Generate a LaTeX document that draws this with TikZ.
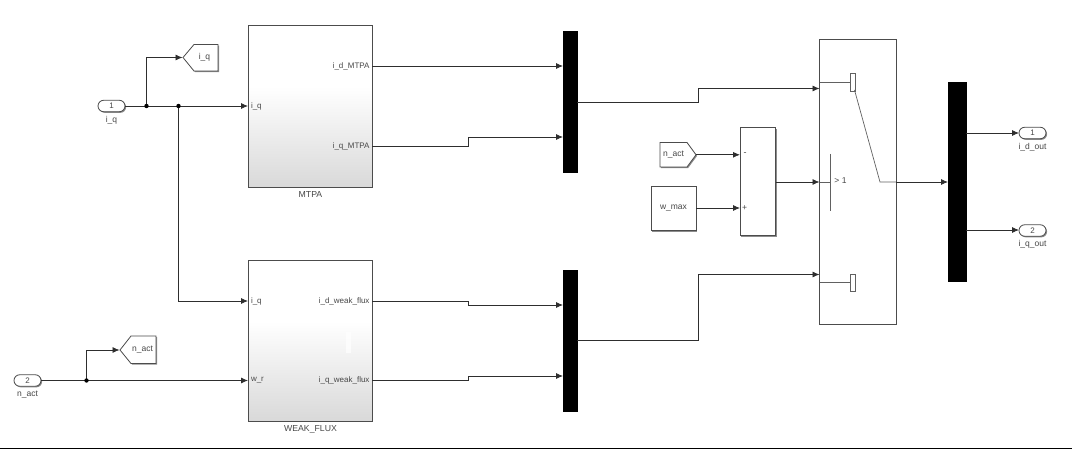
\documentclass[tikz,border=0pt]{standalone}
\usepackage{fontspec}
\setmainfont{Liberation Sans}
\usetikzlibrary{arrows.meta,shapes.misc,shadows}
\pgfdeclareverticalshading{blockfade}{100bp}{color(0bp)=(black!15); color(25bp)=(black!15); color(56bp)=(white); color(100bp)=(white)}
\tikzset{
  lbl/.style={inner sep=0pt,outer sep=0pt,text=black!72,font=\fontsize{8}{9}\selectfont},
  capt/.style={lbl,font=\fontsize{8.7}{10}\selectfont},
  small/.style={lbl,font=\fontsize{8.5}{10}\selectfont},
  shade3/.style={drop shadow={shadow xshift=1.1pt,shadow yshift=-1.1pt,fill=black,opacity=.45}},
  blk/.style={draw=black!70,line width=.8pt,fill=white,inner sep=0pt,outer sep=0pt,anchor=north west,shade3},
  subsys/.style={blk,shading=blockfade},
  muxbar/.style={blk,fill=black,draw=black},
  port/.style={rounded rectangle,draw=black!70,line width=.8pt,fill=white,minimum width=27pt,minimum height=11.5pt,inner sep=0pt,outer sep=0pt,shade3,lbl},
  tagshape/.style={draw=black!70,line width=.8pt,fill=white,shade3},
  wire/.style={draw=black!82,line width=.75pt},
  sig/.style={wire,-{Latex[length=7pt,width=6pt]}},
  dot/.style={circle,fill=black,inner sep=0pt,minimum size=4.4pt},
  inner/.style={draw=black!62,line width=.7pt},
  swbox/.style={draw=black!62,line width=.7pt,fill=white,inner sep=0pt,anchor=north west,minimum width=5pt},
  ghost/.style={fill=white,draw=none,opacity=.7},
}
\begin{document}
\begin{tikzpicture}[x=1pt,y=-1pt]
\useasboundingbox (0,0) rectangle (1072,449);
% bottom rule
\coordinate (ruleL) at (0,448.2);
\coordinate (ruleR) at (1072,448.2);
\draw[black,line width=1.4pt] (ruleL) -- (ruleR);

% subsystems
\node[subsys,minimum width=124pt,minimum height=162pt] (mtpa) at (248,25) {};
\node[capt] (mtpacap) at (310.5,195) {MTPA};
\node[subsys,minimum width=124pt,minimum height=161pt] (weak) at (248,260) {};
\fill[ghost] (346,332) rectangle (351,353);
\node[capt] (weakcap) at (310.5,429) {WEAK\_FLUX};
\node[lbl,anchor=west] (l1) at (251,106.5) {i\_q};
\node[lbl,anchor=east] (l2) at (369.5,66.5) {i\_d\_MTPA};
\node[lbl,anchor=east] (l3) at (369.5,146.5) {i\_q\_MTPA};
\node[lbl,anchor=west] (l4) at (251,301.5) {i\_q};
\node[lbl,anchor=west] (l5) at (251,380.5) {w\_r};
\node[lbl,anchor=east] (l6) at (369.5,301.5) {i\_d\_weak\_flux};
\node[lbl,anchor=east] (l7) at (369.5,380.5) {i\_q\_weak\_flux};
\coordinate (mtpaI) at (248,106);
\coordinate (mtpaD) at (372,66);
\coordinate (mtpaQ) at (372,146);
\coordinate (weakI) at (248,301);
\coordinate (weakD) at (372,301);
\coordinate (weakQ) at (372,380);

% inports
\node[port] (in1) at (111.5,106) {1};
\node[small] (in1l) at (111.5,120.5) {i\_q};
\node[port] (in2) at (27.5,380.5) {2};
\node[small] (in2l) at (27.5,395) {n\_act};

% goto tags
\draw[tagshape] (183,57.5) -- (194,44.5) -- (218,44.5) -- (218,71) -- (194,71) -- cycle;
\node[small] (gotoiq) at (204.5,57.5) {i\_q};
\coordinate (gotoiqT) at (182.5,57.5);
\draw[tagshape] (120,350) -- (131,336) -- (156,336) -- (156,363.5) -- (131,363.5) -- cycle;
\node[small] (gotona) at (142.5,350) {n\_act};
\coordinate (gotonaT) at (119.5,350);

% from tag and constant
\draw[tagshape] (660,142.5) -- (687,142.5) -- (696,154.8) -- (687,167) -- (660,167) -- cycle;
\node[small] (fromna) at (673.5,155) {n\_act};
\coordinate (fromnaT) at (696,154.8);
\node[blk,minimum width=45pt,minimum height=44.5pt] (wmax) at (651.3,186) {};
\node[small] (wmaxl) at (673.5,207.8) {w\_max};

% sum
\node[blk,minimum width=35.5pt,minimum height=108pt] (sum) at (740,127.8) {};
\node[lbl,font=\fontsize{9}{10}\selectfont] (minus) at (745,154.5) {-};
\node[lbl,font=\fontsize{8.5}{10}\selectfont] (plus) at (744.5,208) {+};
\coordinate (sumA) at (740,154.8);
\coordinate (sumB) at (740,208);
\coordinate (sumO) at (775.5,182);

% mux bars
\node[muxbar,minimum width=14pt,minimum height=140.5pt] (mux1) at (563,31.8) {};
\node[muxbar,minimum width=14pt,minimum height=140.5pt] (mux2) at (563,270.8) {};
\node[muxbar,minimum width=18pt,minimum height=199pt] (mux3) at (948,82) {};
\coordinate (m1a) at (563,66);
\coordinate (m1b) at (563,137);
\coordinate (m1o) at (577,102);
\coordinate (m2a) at (563,305);
\coordinate (m2b) at (563,376);
\coordinate (m2o) at (577,340);
\coordinate (m3i) at (948,182);
\coordinate (m3a) at (966,133);
\coordinate (m3b) at (966,230);

% switch
\node[blk,minimum width=76.5pt,minimum height=285pt] (switch) at (819.5,39) {};
\coordinate (swA) at (819.5,88.5);
\coordinate (swC) at (819.5,182);
\coordinate (swB) at (819.5,274.5);
\coordinate (swO) at (896,182);
\coordinate (upS) at (819.5,82.5);
\coordinate (loS) at (819.5,282);
\coordinate (thT) at (830.8,154);
\coordinate (thB) at (830.8,211);
\coordinate (thM) at (830.8,182);
\coordinate (armT) at (854.5,90);
\coordinate (armK) at (880,182);
\node[swbox,minimum height=18pt] (upC) at (850,73.3) {};
\node[swbox,minimum height=17pt] (loC) at (850,274) {};
\draw[inner] (upS) -- (upC.west |- upS);
\draw[inner] (loS) -- (loC.west |- loS);
\draw[inner] (swC) -- (thM);
\draw[inner] (thT) -- (thB);
\draw[inner] (armT) -- (armK) -- (swO);
\node[small] (thr) at (840.5,180.5) {> 1};

% outports
\node[port] (out1) at (1032.5,133) {1};
\node[small] (out1l) at (1032.5,147) {i\_d\_out};
\node[port] (out2) at (1032.5,230.5) {2};
\node[small] (out2l) at (1032.5,244.5) {i\_q\_out};

% connectors
\coordinate (j1) at (146.5,106);
\coordinate (j2) at (178.5,106);
\coordinate (j3) at (86.5,380.5);
\coordinate (weakW2) at (248,380.5);
\draw[sig] (in1.east) -- (mtpaI);
\draw[sig] (j1) |- (gotoiqT);
\draw[sig] (j2) |- (weakI);
\draw[sig] (in2.east) -- (weakW2);
\draw[sig] (j3) |- (gotonaT);
\node[dot] (d1) at (j1) {};
\node[dot] (d2) at (j2) {};
\node[dot] (d3) at (j3) {};

\draw[sig] (mtpaD) -- (m1a);
\draw[sig] (mtpaQ) -- (468,146) -- (468,137) -- (m1b);
\draw[sig] (weakD) -- (468,301) -- (468,305) -- (m2a);
\draw[sig] (weakQ) -- (468,380) -- (468,376) -- (m2b);
\draw[sig] (m1o) -- (698,102) -- (698,88.5) -- (swA);
\draw[sig] (m2o) -- (698,340) -- (698,274.5) -- (swB);
\draw[sig] (fromnaT) -- (sumA);
\draw[sig] (wmax.east |- sumB) -- (sumB);
\draw[sig] (sumO) -- (swC);
\draw[sig] (swO) -- (m3i);
\draw[sig] (m3a) -- (out1.west);
\draw[sig] (m3b) -- (out2.west |- m3b);
\end{tikzpicture}
\end{document}
